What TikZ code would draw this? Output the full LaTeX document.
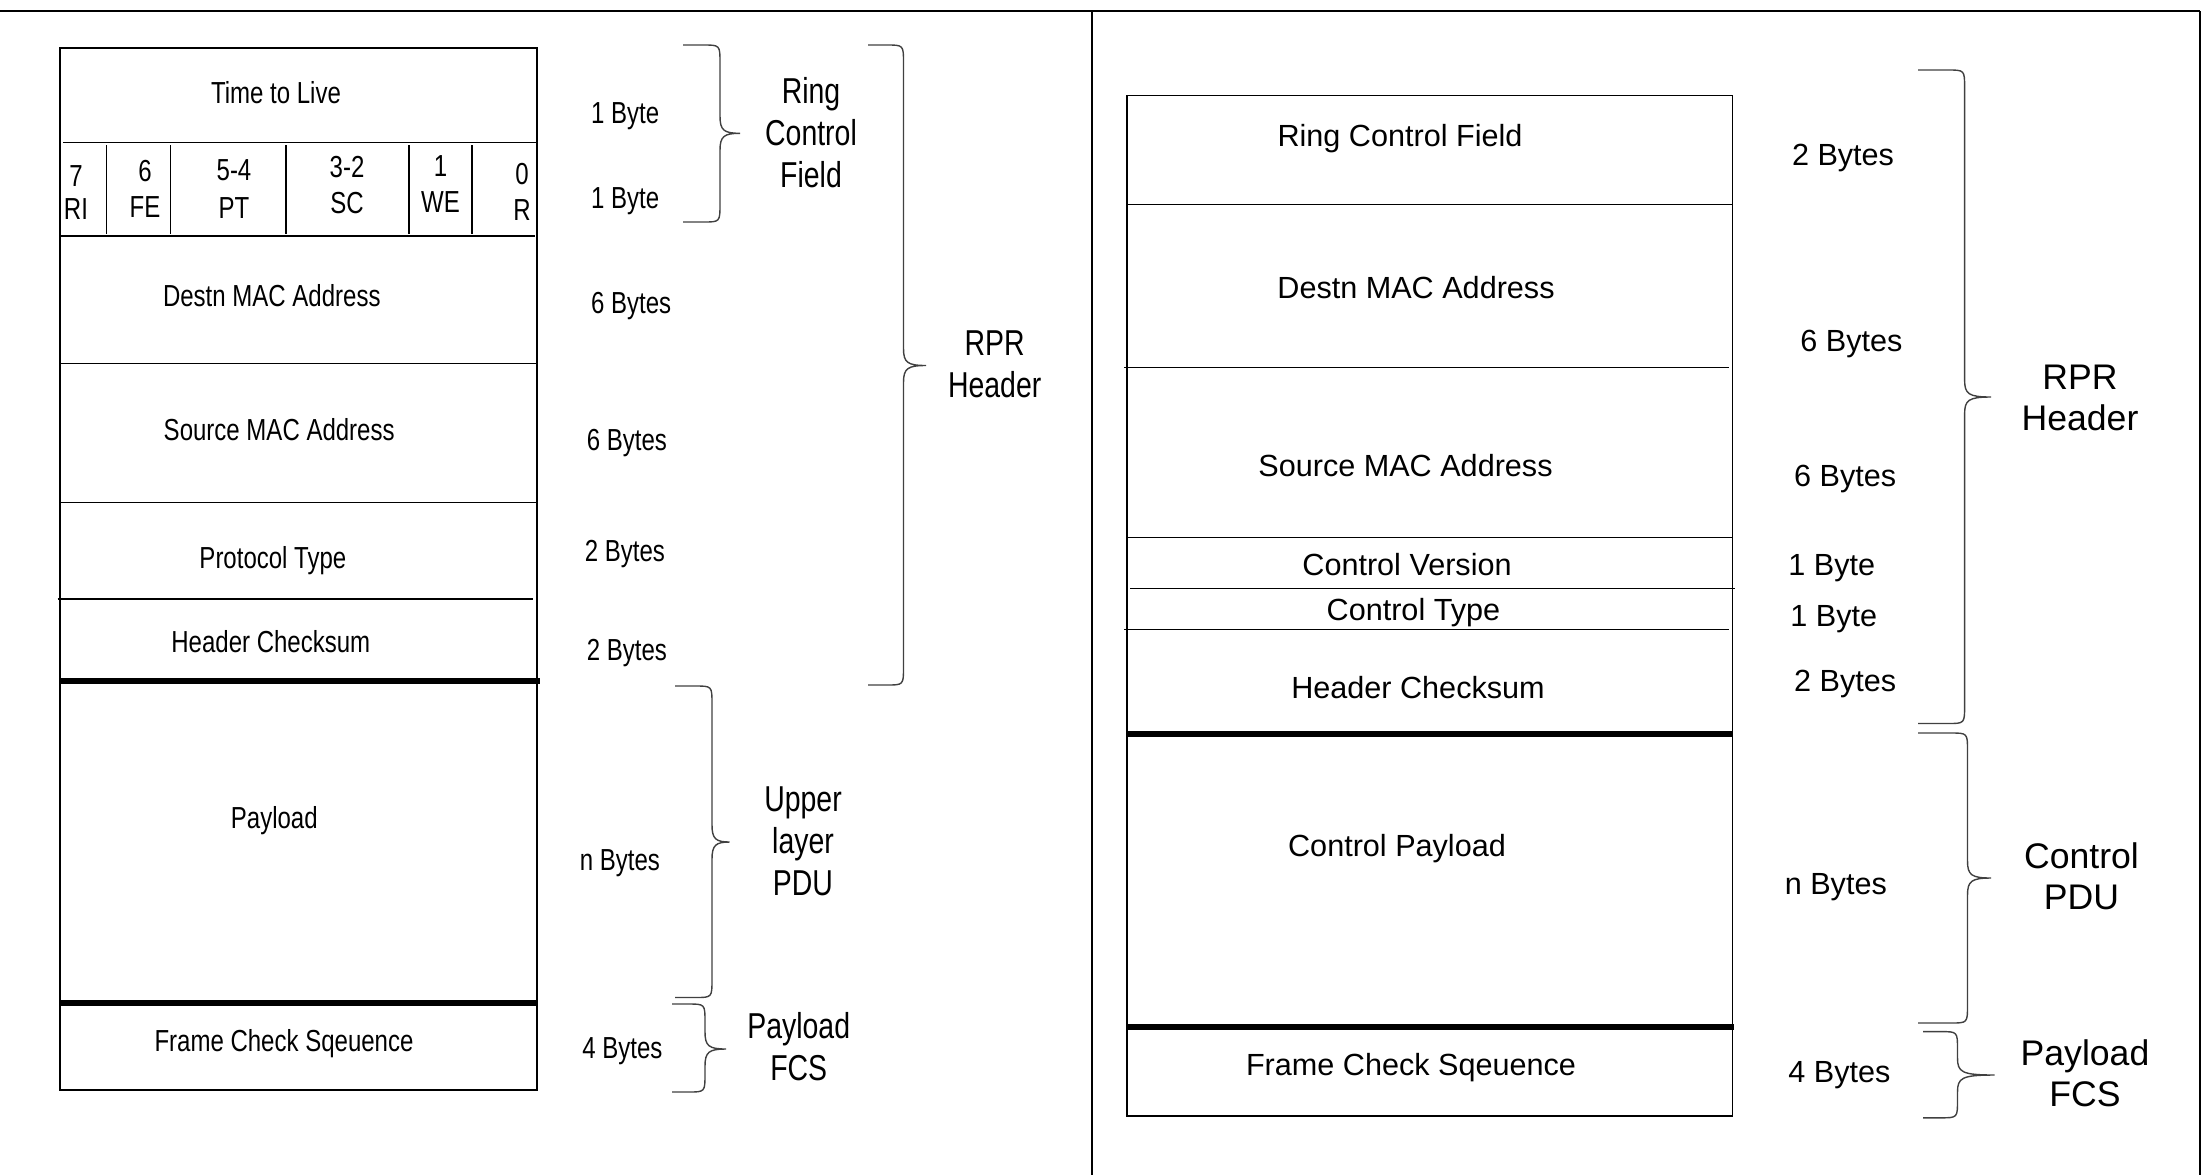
\documentclass[tikz,border=0pt]{standalone}
\usepackage{fontspec}
\setmainfont{Liberation Sans}
\newfontfamily\narrowfont[FakeStretch=0.79]{Liberation Sans}
\newcommand\bracedraw[6]{%
  \draw[bracestyle] (#1,#4) -- ({#2-17},#4) .. controls (#2,#4) .. (#2,{#4+18})
    -- (#2,{#6-17}) .. controls (#2,{#6-3}) and ({#2+4},#6) .. (#3,#6)
    .. controls ({#2+4},#6) and (#2,{#6+3}) .. (#2,{#6+17})
    -- (#2,{#5-18}) .. controls (#2,#5) .. ({#2-17},#5) -- (#1,#5);}
\begin{document}
\begin{tikzpicture}[x=0.5pt,y=-0.5pt,
  frameline/.style={line width=1.2pt},
  fieldline/.style={line width=0.75pt},
  heavyline/.style={line width=2.8pt},
  bracestyle/.style={line width=0.7pt, black!75},
  lfield/.style={font=\narrowfont\fontsize{15.2}{18}\selectfont, inner sep=0pt, text height=10.9pt, text depth=0pt},
  lbyte/.style={lfield, anchor=west},
  lbrace/.style={font=\narrowfont\fontsize{18}{21}\selectfont, align=center, inner sep=0pt},
  lbit/.style={font=\narrowfont\fontsize{15.2}{18}\selectfont, align=center, inner sep=0pt},
  rfield/.style={font=\fontsize{15.3}{18}\selectfont, inner sep=0pt, text height=10.95pt, text depth=0pt},
  rbyte/.style={rfield, anchor=west},
  rbrace/.style={font=\fontsize{17.8}{20.5}\selectfont, align=center, inner sep=0pt}]
\useasboundingbox (0,0) rectangle (2204,1175);
% outer frame
\draw[frameline] (0,11) -- (2200,11);
\draw[frameline] (1092,11) -- (1092,1175);
\draw[frameline] (2200,11) -- (2200,1175);

% ---------------- left panel ----------------
\draw[fieldline] (60,48) rectangle (537,1090);
\draw[fieldline] (63,142.4) -- (537,142.4);
\draw[fieldline] (60,236) -- (535,236);
\draw[fieldline] (60,363.6) -- (537,363.6);
\draw[fieldline] (60,502.5) -- (537,502.5);
\draw[fieldline] (57.5,599) -- (533,599);
\draw[heavyline] (59,681) -- (540,681);
\draw[heavyline] (59,1003) -- (537,1003);
\foreach \bx in {106.6,170.5,286.2,409,472.1}
  \draw[fieldline] (\bx,145) -- (\bx,234);

\node[lfield] (ttl) at (276,93) {Time to Live};
\node[lbit] (bit7) at (76,192.3) {7\\[-1.7pt]RI};
\node[lbit] (bit6) at (145,188.9) {6\\FE};
\node[lbit] (bit54) at (234,189.5) {5-4\\[1pt]PT};
\node[lbit] (bit32) at (347,184.7) {3-2\\SC};
\node[lbit] (bit1) at (440.5,184.3) {1\\WE};
\node[lbit] (bit0) at (522,191.9) {0\\R};
\node[lfield] (ldestn) at (271.8,295.8) {Destn MAC Address};
\node[lfield] (lsource) at (279.2,429.8) {Source MAC Address};
\node[lfield] (lproto) at (272.9,557.6) {Protocol Type};
\node[lfield] (lhcs) at (270.8,641.9) {Header Checksum};
\node[lfield] (lpay) at (274.3,818) {Payload};
\node[lfield] (lfcs) at (284,1041) {Frame Check Sqeuence};

\node[lbyte] (lb1) at (590.7,113) {1 Byte};
\node[lbyte] (lb2) at (590.7,198) {1 Byte};
\node[lbyte] (lb3) at (590.7,302.3) {6 Bytes};
\node[lbyte] (lb4) at (586.5,439.3) {6 Bytes};
\node[lbyte] (lb5) at (584.4,551) {2 Bytes};
\node[lbyte] (lb6) at (586.5,649.5) {2 Bytes};
\node[lbyte] (lb7) at (579.5,860) {n Bytes};
\node[lbyte] (lb8) at (582,1048) {4 Bytes};

\bracedraw{683}{720}{740}{45}{222}{133.3}
\bracedraw{868}{903.5}{926}{45}{685}{365.5}
\bracedraw{675}{712}{729.6}{686}{997.5}{842}
\bracedraw{672}{705}{726}{1004}{1092}{1049}

\node[lbrace] (lrcf) at (811,132.3) {Ring\\Control\\Field};
\node[lbrace] (lrpr) at (994.7,364) {RPR\\Header};
\node[lbrace] (lupper) at (803,841.3) {Upper\\layer\\PDU};
\node[lbrace] (lpfcs) at (798.7,1046.5) {Payload\\FCS};

% ---------------- right panel ----------------
\draw[fieldline] (1127,95.3) rectangle (1732.5,1116);
\draw[fieldline] (1127,204.4) -- (1732.5,204.4);
\draw[fieldline] (1124,367.4) -- (1729,367.4);
\draw[fieldline] (1127,537.3) -- (1732.5,537.3);
\draw[fieldline] (1130,588.6) -- (1734.6,588.6);
\draw[fieldline] (1124,629.3) -- (1729,629.3);
\draw[heavyline] (1127,733.7) -- (1732.5,733.7);
\draw[heavyline] (1127,1027) -- (1734,1027);

\node[rfield] (rrcf) at (1400,136) {Ring Control Field};
\node[rfield] (rdestn) at (1416,287.8) {Destn MAC Address};
\node[rfield] (rsource) at (1405.5,465.7) {Source MAC Address};
\node[rfield] (rcver) at (1407,564.5) {Control Version};
\node[rfield] (rctype) at (1413.4,609.6) {Control Type};
\node[rfield] (rhcs) at (1418,688) {Header Checksum};
\node[rfield] (rcpay) at (1397,845.7) {Control Payload};
\node[rfield] (rfcs) at (1411,1065) {Frame Check Sqeuence};

\node[rbyte] (rb1) at (1791.6,155) {2 Bytes};
\node[rbyte] (rb2) at (1800,340.6) {6 Bytes};
\node[rbyte] (rb3) at (1793.7,475.7) {6 Bytes};
\node[rbyte] (rb4) at (1788,565) {1 Byte};
\node[rbyte] (rb5) at (1790,615.3) {1 Byte};
\node[rbyte] (rb6) at (1793.7,680.6) {2 Bytes};
\node[rbyte] (rb7) at (1784.4,883.6) {n Bytes};
\node[rbyte] (rb8) at (1788,1071.5) {4 Bytes};

\bracedraw{1918}{1964.6}{1991}{70}{723.5}{397}
\bracedraw{1918}{1967.5}{1991}{733}{1023}{878}
\bracedraw{1923}{1957.5}{1994.5}{1031.6}{1117.8}{1075}

\node[rbrace] (rrpr) at (2080,397.5) {RPR\\Header};
\node[rbrace] (rcpdu) at (2081.5,876) {Control\\PDU};
\node[rbrace] (rpfcs) at (2085,1072.8) {Payload\\FCS};
\end{tikzpicture}
\end{document}
